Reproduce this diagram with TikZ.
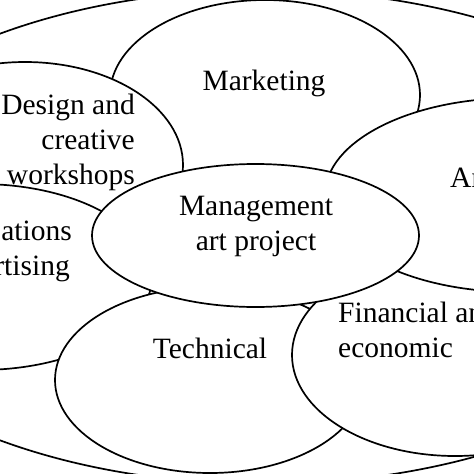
\documentclass[tikz,border=0pt]{standalone}
\usepackage{fontspec}
\setmainfont{Liberation Serif}
\usetikzlibrary{shapes.geometric}
\begin{document}
\begin{tikzpicture}[x=1pt,y=-1pt,
  ell/.style={draw=black, fill=white, line width=1.7pt, ellipse, inner sep=0pt, outer sep=0pt},
  lbl/.style={inner sep=0pt, font=\fontsize{29.5}{35}\selectfont, text=black}]
\useasboundingbox (0,0) rectangle (474,474);
\fill[white] (0,0) rectangle (474,474);
\clip (0,0) rectangle (474,474);
% ellipses, back to front
\node[ell, minimum width=926pt, minimum height=494pt] (outer) at (263,237) {};
\node[ell, minimum width=310pt, minimum height=190pt] (mkt) at (265,95) {};
\node[ell, minimum width=316pt, minimum height=206pt] (des) at (25,165) {};
\node[ell, minimum width=344pt, minimum height=186pt] (com) at (-20,277) {};
\node[ell, minimum width=310pt, minimum height=186pt] (tec) at (210,380) {};
\node[ell, minimum width=326pt, minimum height=202pt] (fin) at (455,355) {};
\node[ell, minimum width=380pt, minimum height=194pt] (art) at (515,195) {};
\node[ell, minimum width=327pt, minimum height=143pt] (mgt) at (255.5,235.5) {};
% labels
\node[lbl, anchor=base] (tmkt) at (264,90) {Marketing};
\node[lbl, anchor=base] (tmgt1) at (256,215) {Management};
\node[lbl, anchor=base] (tmgt2) at (256,250) {art project};
\node[lbl, anchor=base east] (tdes1) at (135,114) {Design and};
\node[lbl, anchor=base east] (tdes2) at (135,149) {creative};
\node[lbl, anchor=base east] (tdes3) at (135,184) {workshops};
\node[lbl, anchor=base east] (tcom1) at (72,240) {ations};
\node[lbl, anchor=base east] (tcom2) at (70,275) {rtising};
\node[lbl, anchor=base west] (tart) at (450,187) {Ar};
\node[lbl, anchor=base west] (tfin1) at (338,322) {Financial and};
\node[lbl, anchor=base west] (tfin2) at (338,357) {economic};
\node[lbl, anchor=base] (ttec) at (210,358) {Technical};
\end{tikzpicture}
\end{document}
